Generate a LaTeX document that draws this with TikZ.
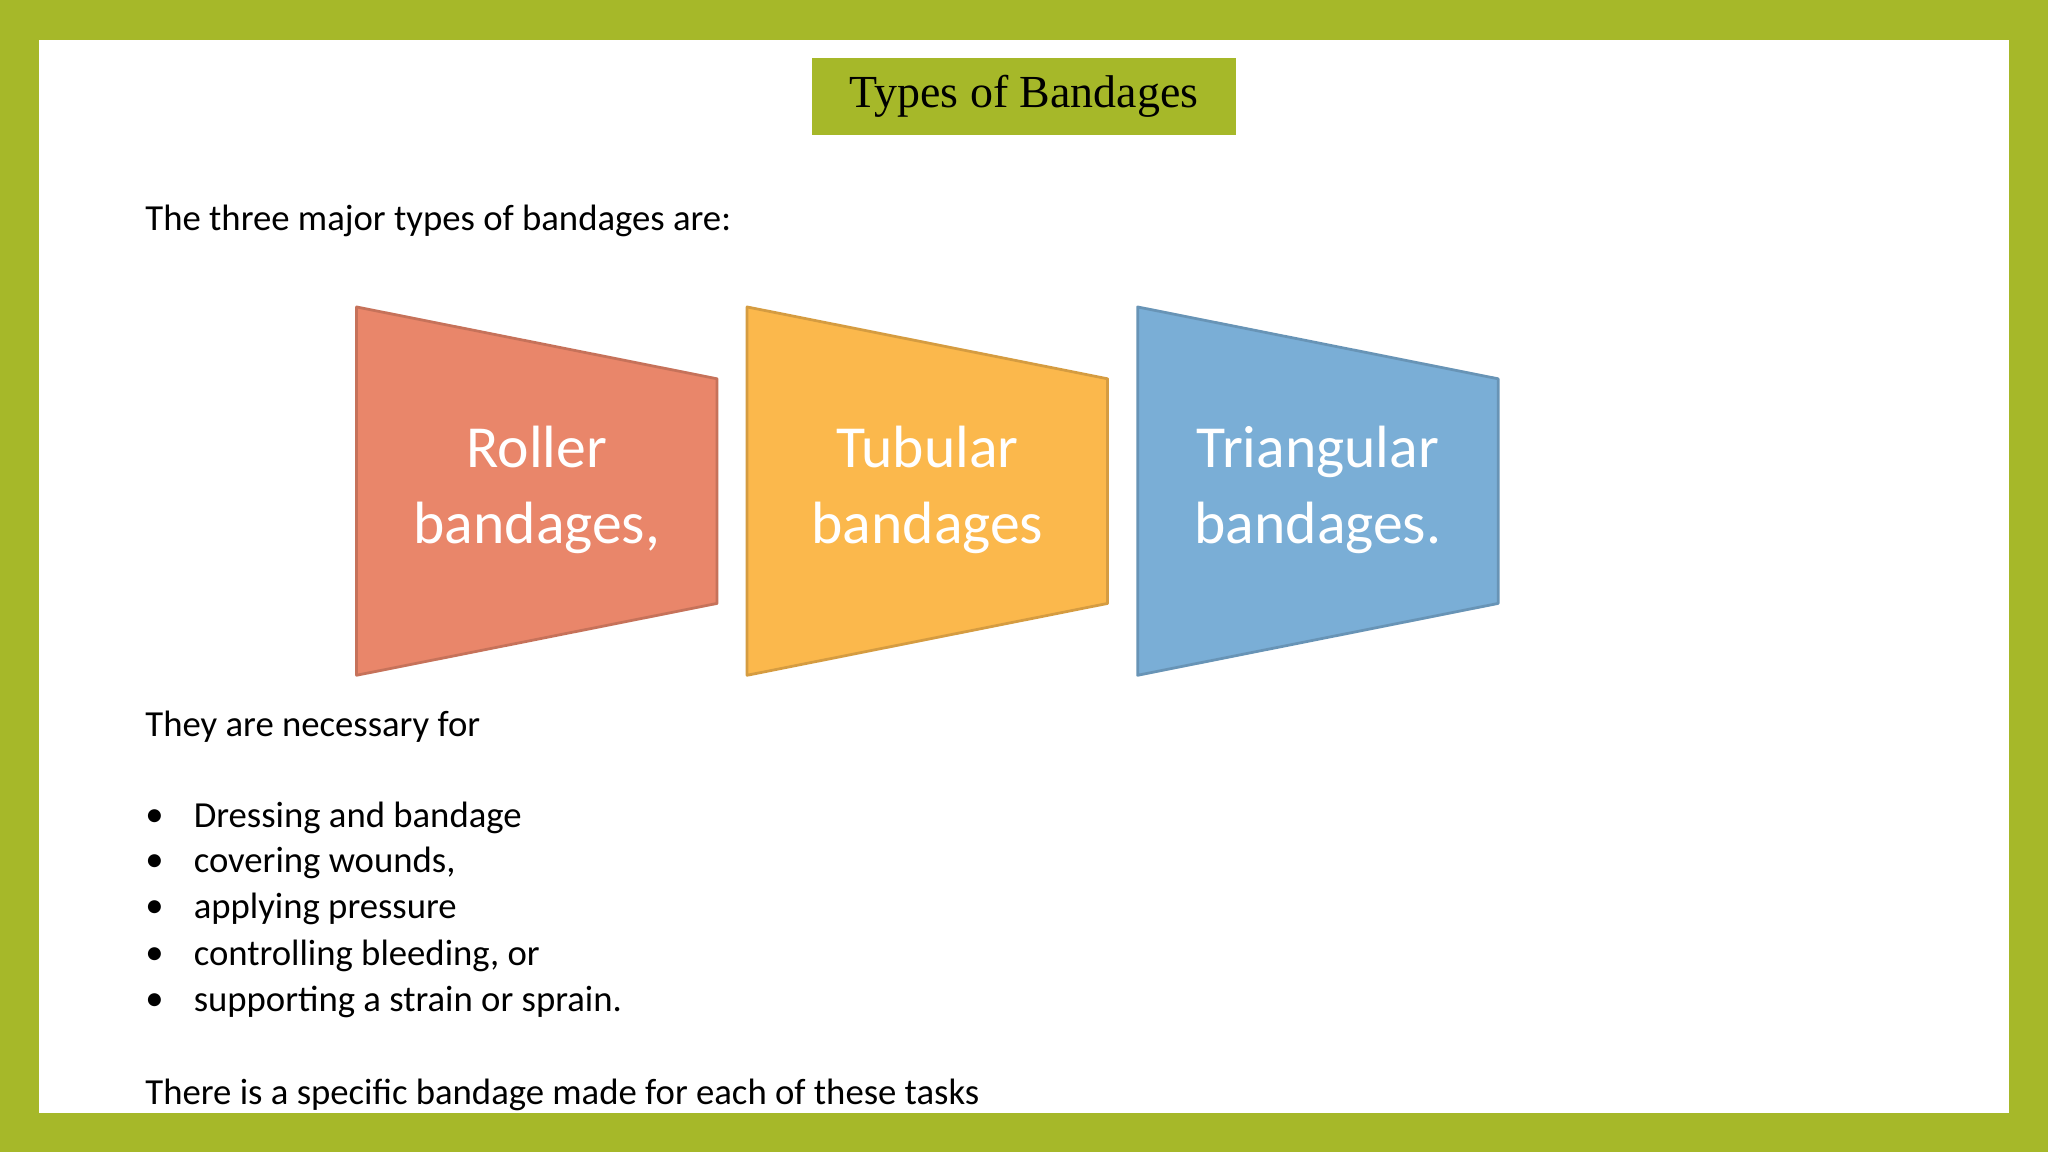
\documentclass[tikz,border=0pt]{standalone}
\usepackage{fontspec}
\setmainfont{Carlito}
\newfontfamily\titlefont{Liberation Serif}
\definecolor{frame}{HTML}{A6B829}
\definecolor{rollerc}{HTML}{E9866A}
\definecolor{tubec}{HTML}{FBB84C}
\definecolor{tric}{HTML}{7AAED6}
\begin{document}
\begin{tikzpicture}[x=0.02cm,y=-0.02cm,
  body/.style={anchor=west,inner sep=0pt,font=\fontsize{16}{19}\selectfont,text=black},
  bandtext/.style={align=center,text=white,font=\fontsize{26}{33}\selectfont,inner sep=0pt},
  trap/.style={line width=1.2pt,line join=round}]
\useasboundingbox (0,0) rectangle (1568,882);
\fill[frame] (0,0) rectangle (1568,882);
\fill[white] (30,31) rectangle (1538,852);
\node[fill=frame,minimum width=324*0.02cm,minimum height=59*0.02cm,inner sep=0pt,font=\titlefont\fontsize{20}{24}\selectfont] (title) at (784,74) {Types of Bandages};
\node[body] (intro) at (111,169) {The three major types of bandages are:};
% trapezoids
\foreach \x/\c/\n in {273/rollerc/r,572/tubec/t,871/tric/g}{
  \draw[trap,fill=\c,draw=\c!85!black] (\x,235) -- (\x+276,290) -- (\x+276,462) -- (\x,517) -- cycle;
}
\node[bandtext] (roller) at (411,375) {Roller\\bandages,};
\node[bandtext] (tubular) at (710,375) {Tubular\\bandages};
\node[bandtext] (triangular) at (1009,375) {Triangular\\bandages.};
\node[body] (nec) at (111,556) {They are necessary for};
\foreach \y/\t/\n in {626/Dressing and bandage/a,661/{covering wounds,}/b,696/applying pressure/c,732/{controlling bleeding, or}/d,767/{supporting a strain or sprain.}/e}{
  \node[body] (dot\n) at (111,\y) {\textbullet};
  \node[body] (item\n) at (148,\y) {\t};
}
\node[body] (last) at (111,838) {There is a specific bandage made for each of these tasks};
\end{tikzpicture}
\end{document}
